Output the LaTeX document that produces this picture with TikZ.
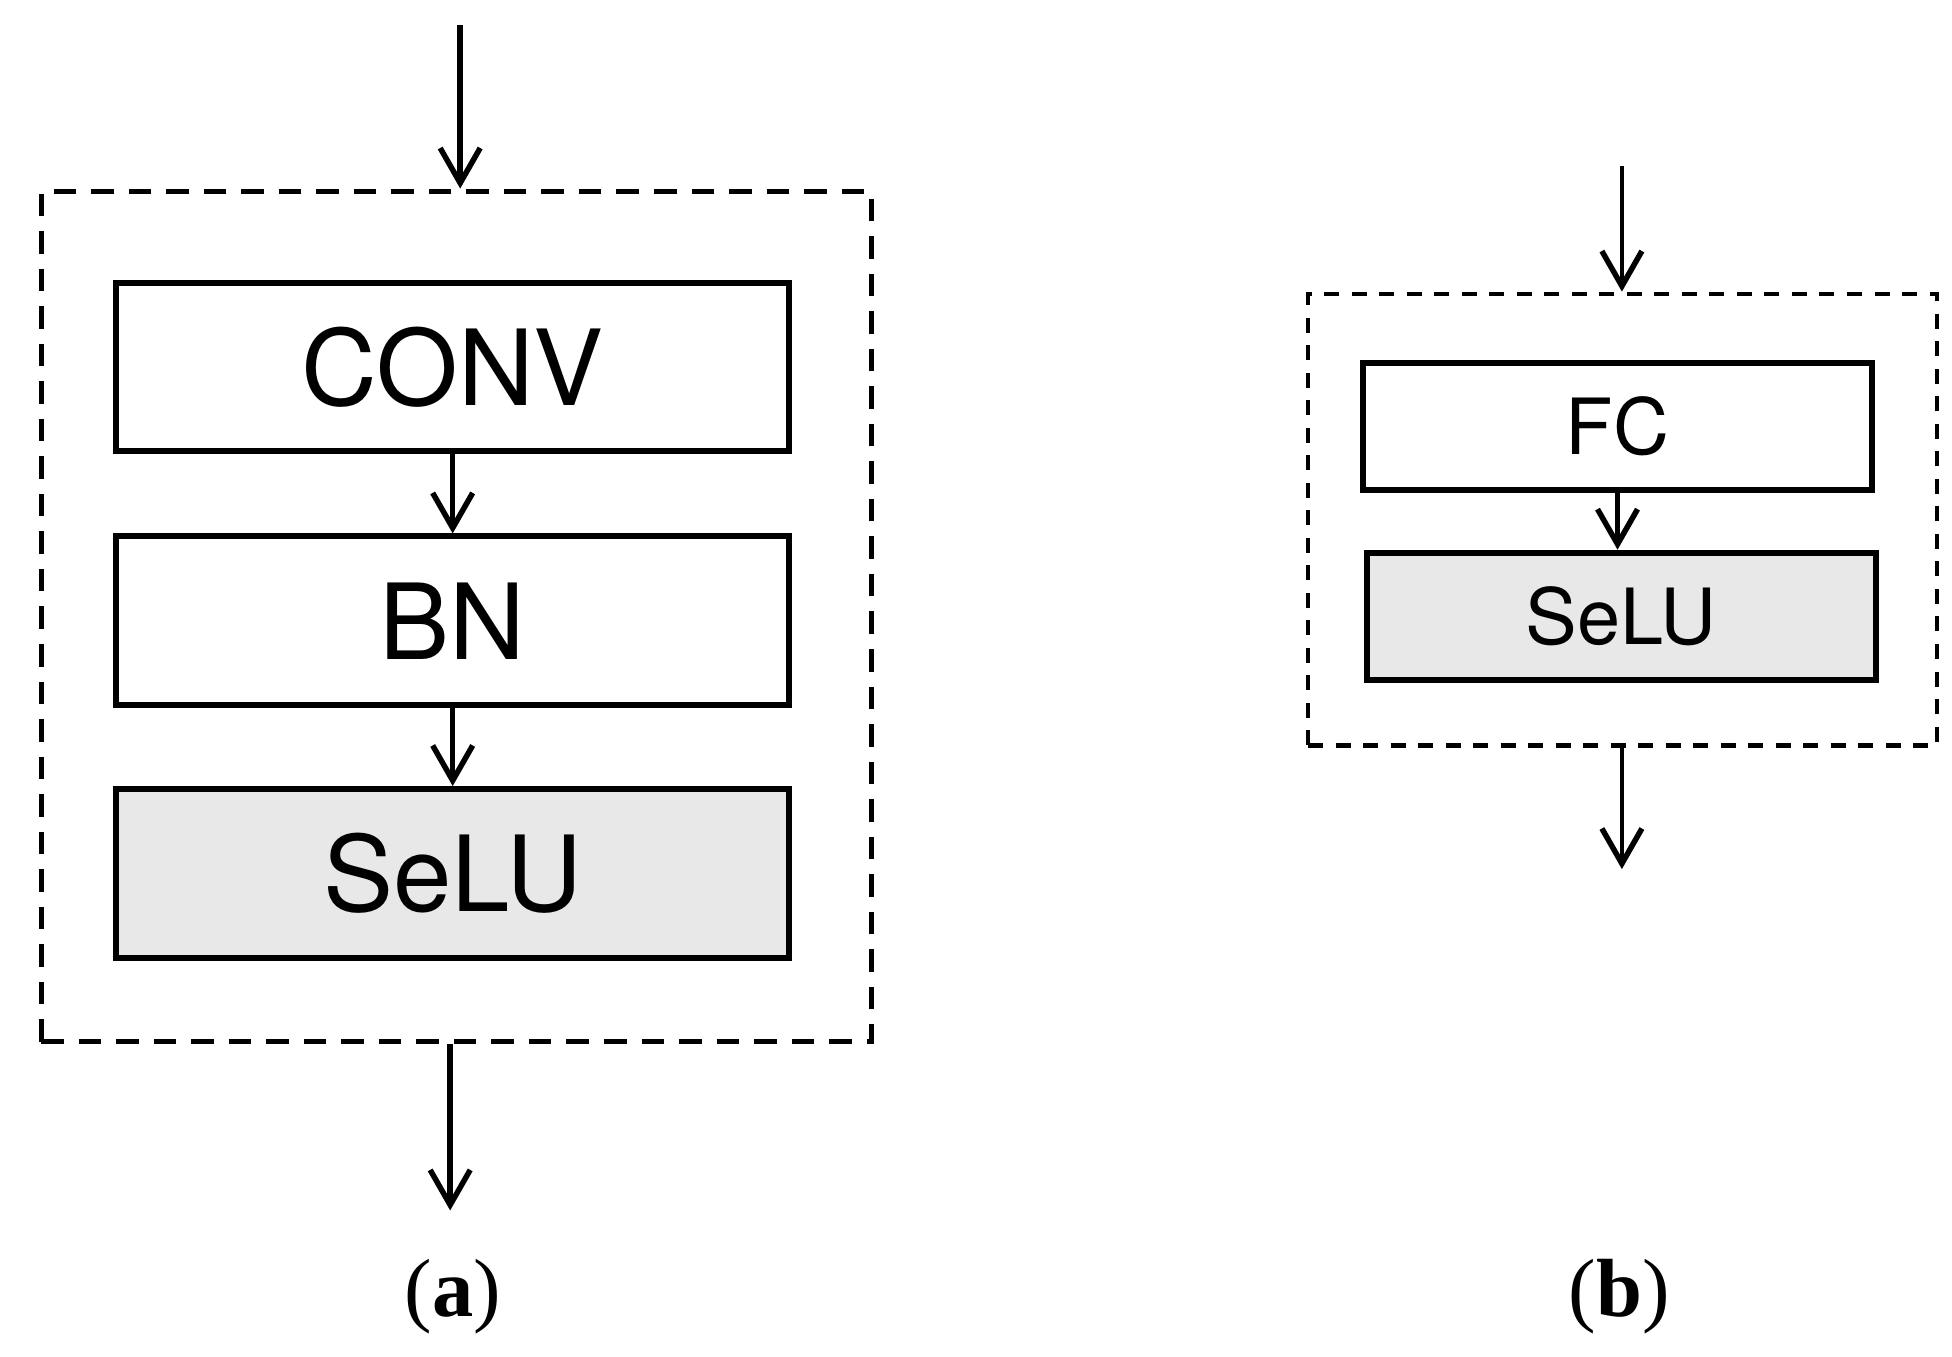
\documentclass[tikz,border=0pt]{standalone}
\usepackage{fontspec}
\setmainfont{TeX Gyre Heros}
\newfontfamily\capfont{Liberation Serif}
\usetikzlibrary{arrows.meta}
\definecolor{selugray}{HTML}{E8E8E8}
\tikzset{
  layer/.style={draw, line width=2.4pt, inner sep=0pt},
  bigbox/.style={layer, minimum width=269pt, minimum height=67.5pt, font=\fontsize{42}{46}\selectfont},
  smallbox/.style={layer, minimum width=203.5pt, minimum height=51pt, font=\fontsize{31}{34}\selectfont},
  frame/.style={draw, dashed, inner sep=0pt},
  flow/.style={line width=2.2pt, -{Straight Barb[length=14pt, width=16pt, line width=2.2pt]}},
  caption/.style={font=\capfont\fontsize{33}{36}\selectfont}
}
\begin{document}
\begin{tikzpicture}[x=0.5pt,y=-0.5pt]
\useasboundingbox (0,0) rectangle (1561,1085);

% (a) convolution block
\node[frame, line width=2.2pt, dash pattern=on 9pt off 6pt, minimum width=332pt, minimum height=340pt] (frameA) at (365,493) {};
\node[bigbox] (conv) at (362,293.5) {CONV};
\node[bigbox] (bn) at (362,496.5) {BN};
\node[bigbox, fill=selugray] (seluA) at (362,698.5) {SeLU};
\coordinate (inA) at (368,20);
\coordinate (outA) at (360,968);
\draw[flow] (inA) -- (inA |- frameA.north);
\draw[flow] (conv.south) -- (bn.north);
\draw[flow] (bn.south) -- (seluA.north);
\draw[flow] (outA |- frameA.south) -- (outA);
\node[caption] (capA) at (362,1037) {(\textbf{a})};

% (b) fully connected block
\node[frame, line width=1.8pt, dash pattern=on 6pt off 5pt, minimum width=251.5pt, minimum height=180.5pt] (frameB) at (1297.5,415.5) {};
\node[smallbox] (fc) at (1293.5,341) {FC};
\node[smallbox, fill=selugray] (seluB) at (1296.5,493) {SeLU};
\coordinate (inB) at (1297,133);
\coordinate (outB) at (1297,695);
\draw[flow, line width=1.8pt] (inB) -- (inB |- frameB.north);
\draw[flow, line width=1.8pt] (fc.south) -- (fc.south |- seluB.north);
\draw[flow, line width=1.8pt] (outB |- frameB.south) -- (outB);
\node[caption] (capB) at (1295,1037) {(\textbf{b})};
\end{tikzpicture}
\end{document}
